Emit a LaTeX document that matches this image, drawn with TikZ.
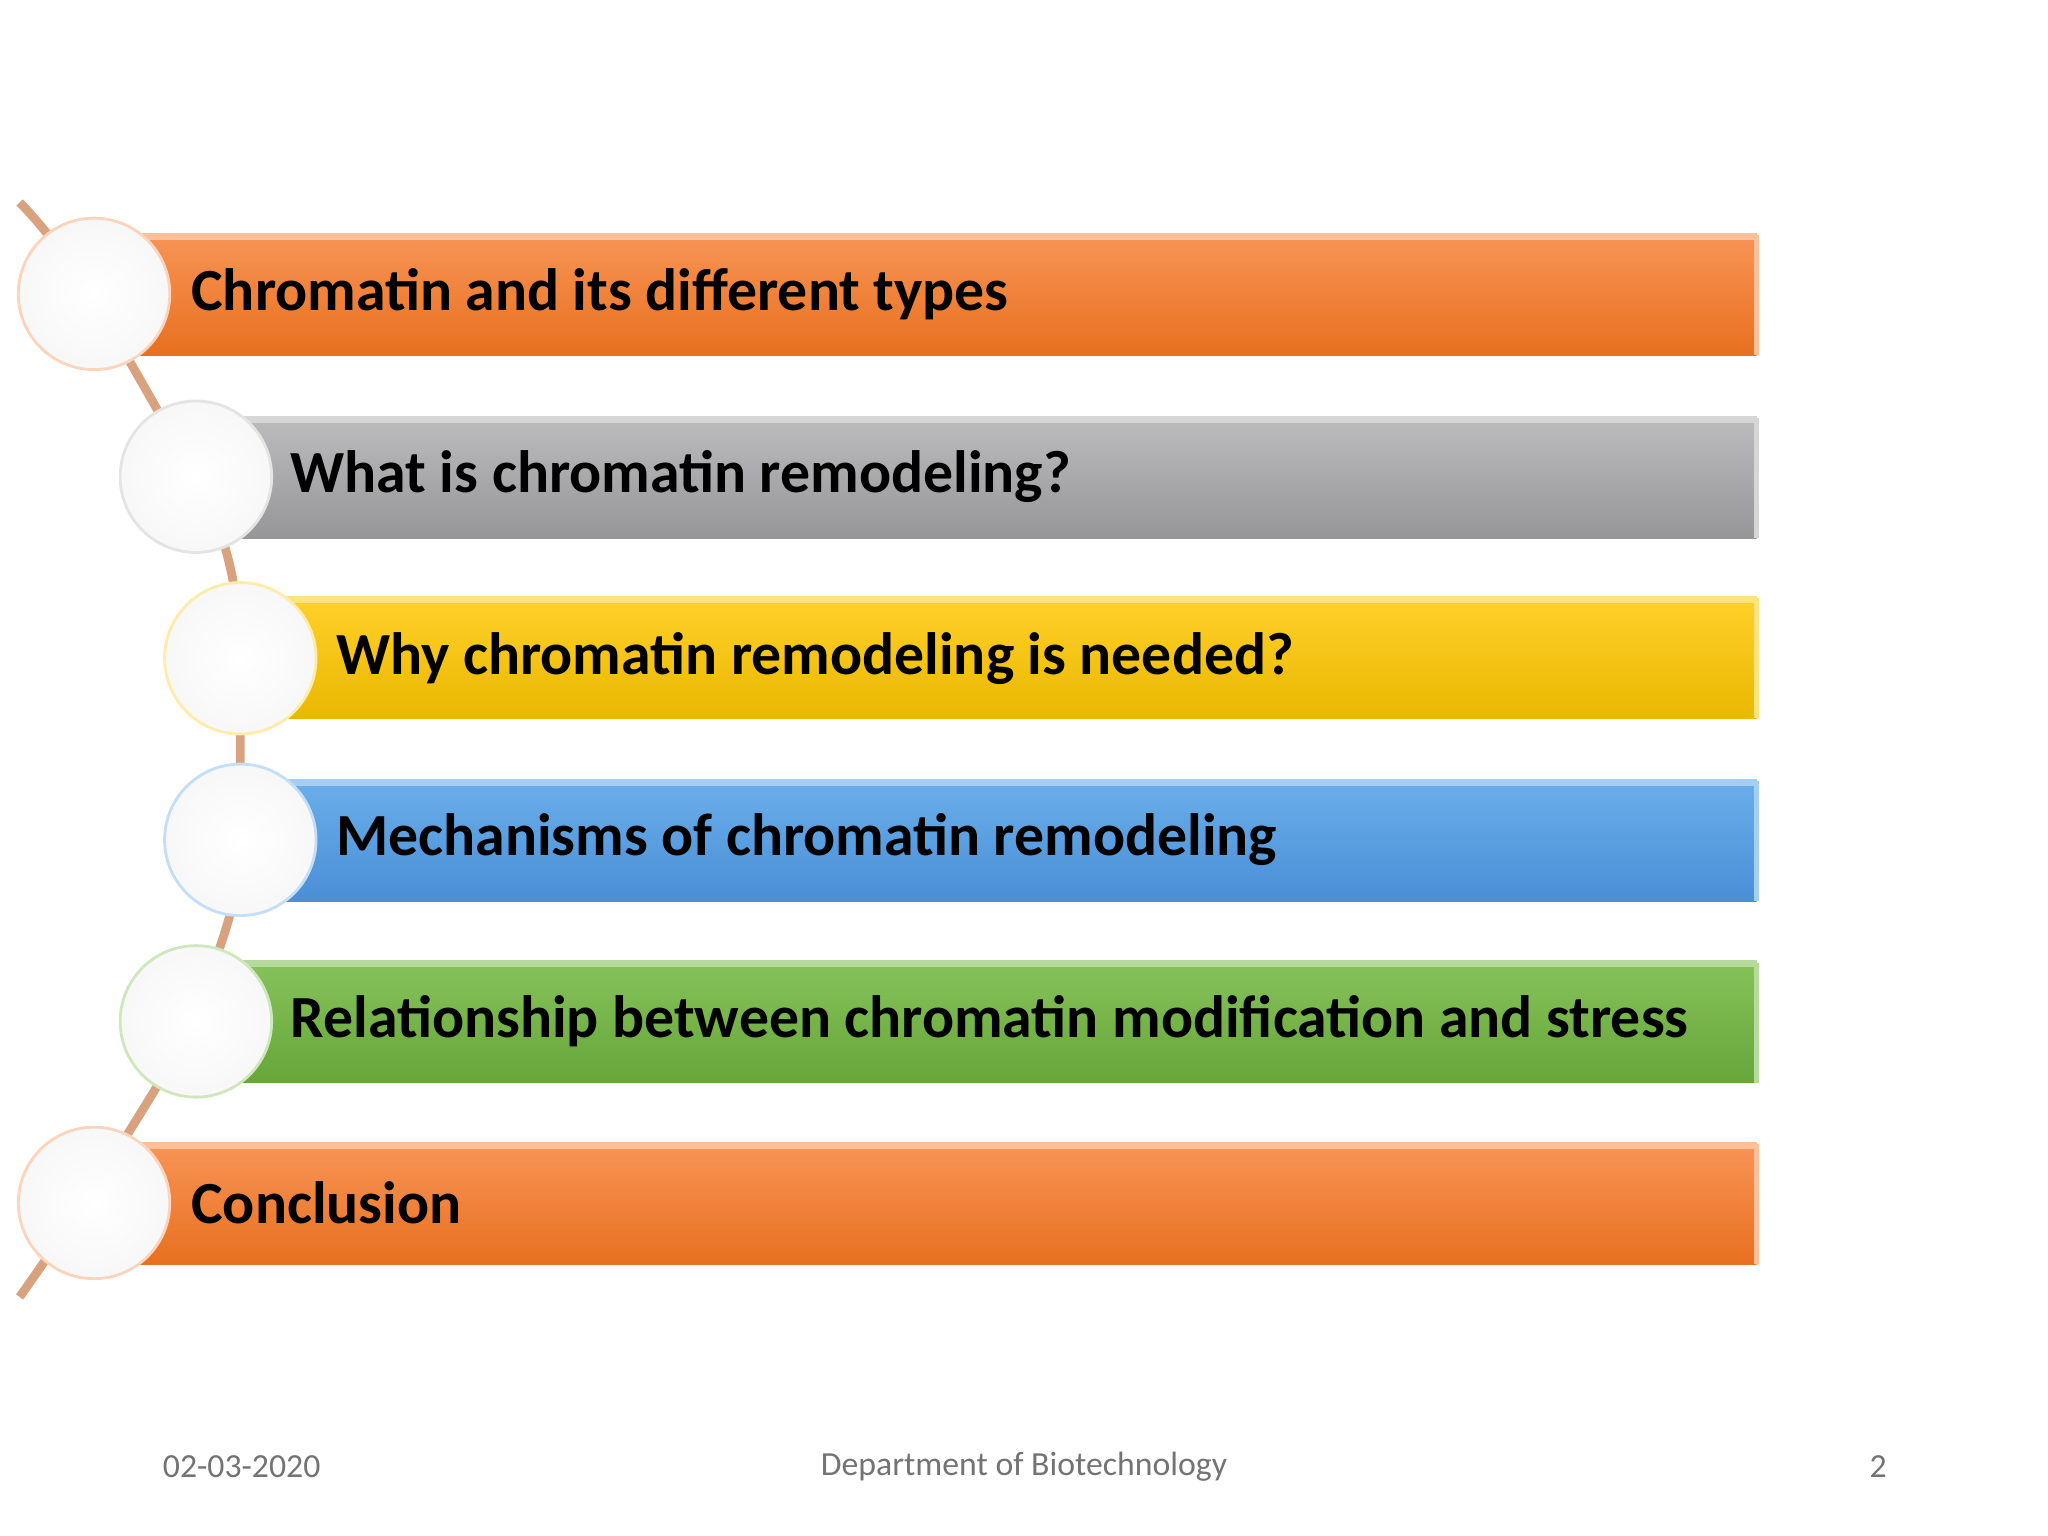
\documentclass[tikz,border=0pt]{standalone}
\usepackage{fontspec}
\setmainfont{Carlito}
\begin{document}
\begin{tikzpicture}[x=0.013061cm,y=-0.013061cm,
 lbl/.style={anchor=west,font=\bfseries\fontsize{17}{20}\selectfont,text=black},
 foot/.style={font=\fontsize{9.6}{11}\selectfont,text=gray!90!black}]
\useasboundingbox (0,0) rectangle (1568,1176);
\definecolor{orTop}{HTML}{F89456}\definecolor{orBot}{HTML}{E8701F}
\definecolor{grTop}{HTML}{BCBBBD}\definecolor{grBot}{HTML}{969598}
\definecolor{yeTop}{HTML}{FFD02A}\definecolor{yeBot}{HTML}{EAB800}
\definecolor{blTop}{HTML}{6AAEEA}\definecolor{blBot}{HTML}{4A8FD6}
\definecolor{gnTop}{HTML}{86C25A}\definecolor{gnBot}{HTML}{66A63A}
\definecolor{cord}{HTML}{D9A27E}
% connector line
\draw[cord,line width=2.5pt] (15,155) .. controls (60,200) and (100,280) .. (150,365)
  .. controls (175,410) and (184,460) .. (184,504)
  -- (184,643) .. controls (184,700) and (160,740) .. (150,782)
  .. controls (110,850) and (60,930) .. (15,993);
% bars
\foreach \yy/\xx/\c in {180/100/or,320/180/gr,458/215/ye,598/215/bl,737/180/gn,876/100/or}{
  \shade[top color=\c Top,bottom color=\c Bot] (\xx,\yy) rectangle (1345,\yy+92);
  \draw[\c Top!60!white,line width=2pt] (\xx,\yy+1) -- (1345,\yy+1);
  \draw[\c Top!60!white,line width=1.5pt] (1345,\yy) -- (1345,\yy+92);
}
\foreach \n/\xx/\yy/\c in {c1/72/225/orTop,c2/150/365/grTop,c3/184/504/yeTop,c4/184/643/blTop,c5/150/782/gnTop,c6/72/921/orTop}{
  \node[circle,minimum size=1.515cm,inner sep=0pt,draw=\c!40!white,line width=0.8pt,inner color=white,outer color=gray!6] (\n) at (\xx,\yy) {};
}
\node[lbl] (t1) at (137,225) {Chromatin and its different types};
\node[lbl] (t2) at (213,365) {What is chromatin remodeling?};
\node[lbl] (t3) at (248,504) {Why chromatin remodeling is needed?};
\node[lbl] (t4) at (248,643) {Mechanisms of chromatin remodeling};
\node[lbl] (t5) at (213,782) {Relationship between chromatin modification and stress};
\node[lbl] (t6) at (137,921) {Conclusion};
\node[foot] (d) at (185,1123) {02-03-2020};
\node[foot] (dep) at (784,1123) {Department of Biotechnology};
\node[foot] (p) at (1438,1123) {2};
\end{tikzpicture}
\end{document}
